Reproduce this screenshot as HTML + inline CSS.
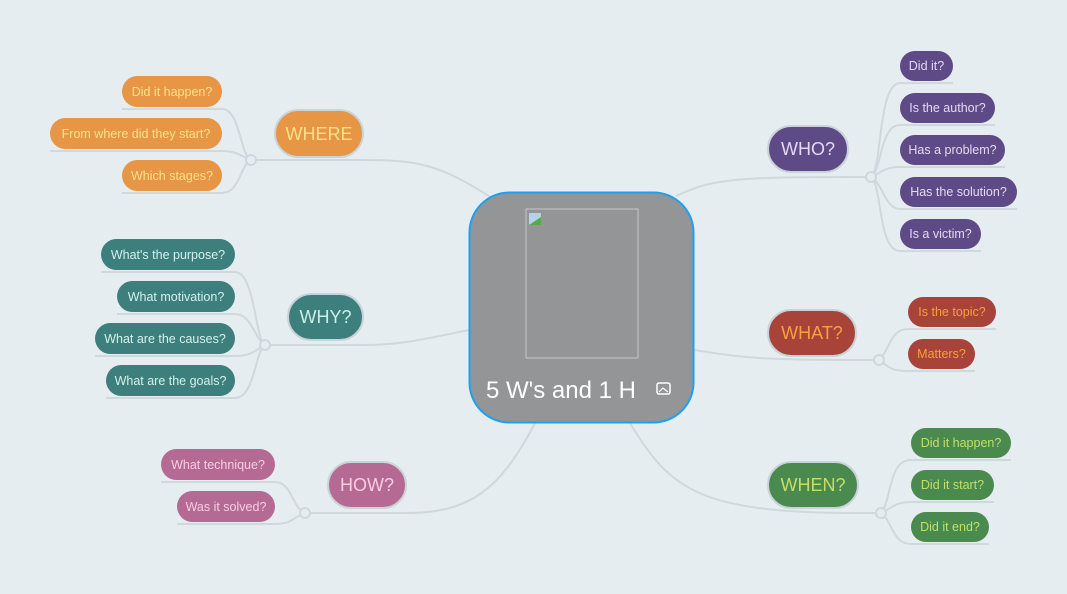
<!DOCTYPE html>
<html><head><meta charset="utf-8"><style>
html,body{margin:0;padding:0;background:#e5edf1;}
svg{display:block;font-family:"Liberation Sans",sans-serif;}
</style></head><body>
<svg width="1067" height="594" viewBox="0 0 1067 594" xmlns="http://www.w3.org/2000/svg">
<rect width="1067" height="594" fill="#e5edf1"/>
<g fill="none" stroke="#cfd8dc" stroke-width="2">
<!-- main connectors -->
<path d="M492,198 C440,165 420,160 363,160 L256,160"/>
<path d="M469,330 C420,340 400,345 363,345 L270,345"/>
<path d="M535,423 C500,490 470,513 406,513 L310,513"/>
<path d="M676,196 C710,180 730,177 848,177 L866,177"/>
<path d="M694,350 C730,355 740,360 856,360 L874,360"/>
<path d="M630,423 C670,490 700,513 858,513 L876,513"/>
<!-- WHERE children -->
<path d="M122,109 L222,109 C240,109 240,155 251,160"/>
<path d="M50,151 L222,151 C235,151 240,155 251,160"/>
<path d="M122,193 L222,193 C240,193 240,165 251,160"/>
<!-- WHY children -->
<path d="M101,272 L235,272 C255,272 255,340 265,345"/>
<path d="M117,314 L235,314 C252,314 255,340 265,345"/>
<path d="M95,356 L235,356 C252,356 255,350 265,345"/>
<path d="M106,398 L235,398 C255,398 255,350 265,345"/>
<!-- HOW -->
<path d="M161,482 L275,482 C292,482 292,508 305,513"/>
<path d="M177,524 L275,524 C292,524 292,518 305,513"/>
<!-- WHO -->
<path d="M871,177 C882,170 878,83 900,83 L953,83"/>
<path d="M871,177 C882,170 880,125 900,125 L995,125"/>
<path d="M871,177 C882,172 885,167 900,167 L1005,167"/>
<path d="M871,177 C882,182 885,209 900,209 L1017,209"/>
<path d="M871,177 C882,184 878,251 900,251 L981,251"/>
<!-- WHAT -->
<path d="M879,360 C890,350 890,329 908,329 L996,329"/>
<path d="M879,360 C890,368 892,371 908,371 L975,371"/>
<!-- WHEN -->
<path d="M881,513 C892,500 888,460 911,460 L1011,460"/>
<path d="M881,513 C892,508 895,502 911,502 L994,502"/>
<path d="M881,513 C892,520 892,544 911,544 L989,544"/>
</g>
<g fill="#e5edf1" stroke="#cfd8dc" stroke-width="2">
<circle cx="251" cy="160" r="5"/><circle cx="265" cy="345" r="5"/><circle cx="305" cy="513" r="5"/>
<circle cx="871" cy="177" r="5"/><circle cx="879" cy="360" r="5"/><circle cx="881" cy="513" r="5"/>
</g>
<!-- center -->
<rect x="469.5" y="192.5" width="224" height="230" rx="40" fill="#939597" stroke="#1ea0f0" stroke-width="2"/>
<rect x="526" y="209" width="112" height="149" fill="none" stroke="#c4c6c8" stroke-width="1"/>
<rect x="529" y="213" width="12" height="12" fill="#b8d0e8"/>
<path d="M529,225 L541,217 L541,225Z" fill="#5aa84a"/>
<text x="486" y="398" font-size="24" fill="#fff">5 W's and 1 H</text>
<rect x="657" y="383" width="13" height="11" rx="2" fill="none" stroke="#fff" stroke-width="1.5"/>
<path d="M659,392 L663,388 L668,392" fill="none" stroke="#fff" stroke-width="1.2"/>
<!-- main nodes -->
<g stroke="#c9d3d8" stroke-width="2">
<rect x="275" y="110" width="88" height="47" rx="23.5" fill="#e69645"/>
<rect x="288" y="294" width="75" height="46" rx="23" fill="#3d7f7d"/>
<rect x="328" y="462" width="78" height="46" rx="23" fill="#b56a93"/>
<rect x="768" y="126" width="80" height="46" rx="23" fill="#5e4a86"/>
<rect x="768" y="310" width="88" height="46" rx="23" fill="#a8433a"/>
<rect x="768" y="462" width="90" height="46" rx="23" fill="#4a8a4f"/>
</g>
<g font-size="18" text-anchor="middle">
<text x="319" y="140" fill="#ffe08a">WHERE</text>
<text x="325.5" y="323" fill="#cdeee8">WHY?</text>
<text x="367" y="491" fill="#f7cde2">HOW?</text>
<text x="808" y="155" fill="#e3d8f5">WHO?</text>
<text x="812" y="339" fill="#f4a043">WHAT?</text>
<text x="813" y="491" fill="#c5df66">WHEN?</text>
</g>
<!-- children -->
<g font-size="12.5" text-anchor="middle">
<rect x="122" y="76" width="100" height="31" rx="15.5" fill="#e69645"/><text x="172" y="96" fill="#ffe08a">Did it happen?</text>
<rect x="50" y="118" width="172" height="31" rx="15.5" fill="#e69645"/><text x="136" y="138" fill="#ffe08a">From where did they start?</text>
<rect x="122" y="160" width="100" height="31" rx="15.5" fill="#e69645"/><text x="172" y="180" fill="#ffe08a">Which stages?</text>

<rect x="101" y="239" width="134" height="31" rx="15.5" fill="#3d7f7d"/><text x="168" y="259" fill="#d5f0ec">What's the purpose?</text>
<rect x="117" y="281" width="118" height="31" rx="15.5" fill="#3d7f7d"/><text x="176" y="301" fill="#d5f0ec">What motivation?</text>
<rect x="95" y="323" width="140" height="31" rx="15.5" fill="#3d7f7d"/><text x="165" y="343" fill="#d5f0ec">What are the causes?</text>
<rect x="106" y="365" width="129" height="31" rx="15.5" fill="#3d7f7d"/><text x="170.5" y="385" fill="#d5f0ec">What are the goals?</text>

<rect x="161" y="449" width="114" height="31" rx="15.5" fill="#b56a93"/><text x="218" y="469" fill="#f7cde2">What technique?</text>
<rect x="177" y="491" width="98" height="31" rx="15.5" fill="#b56a93"/><text x="226" y="511" fill="#f7cde2">Was it solved?</text>

<rect x="900" y="51" width="53" height="30" rx="15" fill="#5e4a86"/><text x="926.5" y="70" fill="#e3d8f5">Did it?</text>
<rect x="900" y="93" width="95" height="30" rx="15" fill="#5e4a86"/><text x="947.5" y="112" fill="#e3d8f5">Is the author?</text>
<rect x="900" y="135" width="105" height="30" rx="15" fill="#5e4a86"/><text x="952.5" y="154" fill="#e3d8f5">Has a problem?</text>
<rect x="900" y="177" width="117" height="30" rx="15" fill="#5e4a86"/><text x="958.5" y="196" fill="#e3d8f5">Has the solution?</text>
<rect x="900" y="219" width="81" height="30" rx="15" fill="#5e4a86"/><text x="940.5" y="238" fill="#e3d8f5">Is a victim?</text>

<rect x="908" y="297" width="88" height="30" rx="15" fill="#a8433a"/><text x="952" y="316" fill="#f4a043">Is the topic?</text>
<rect x="908" y="339" width="67" height="30" rx="15" fill="#a8433a"/><text x="941.5" y="358" fill="#f4a043">Matters?</text>

<rect x="911" y="428" width="100" height="30" rx="15" fill="#4a8a4f"/><text x="961" y="447" fill="#c5df66">Did it happen?</text>
<rect x="911" y="470" width="83" height="30" rx="15" fill="#4a8a4f"/><text x="952.5" y="489" fill="#c5df66">Did it start?</text>
<rect x="911" y="512" width="78" height="30" rx="15" fill="#4a8a4f"/><text x="950" y="531" fill="#c5df66">Did it end?</text>
</g>
</svg>
</body></html>
